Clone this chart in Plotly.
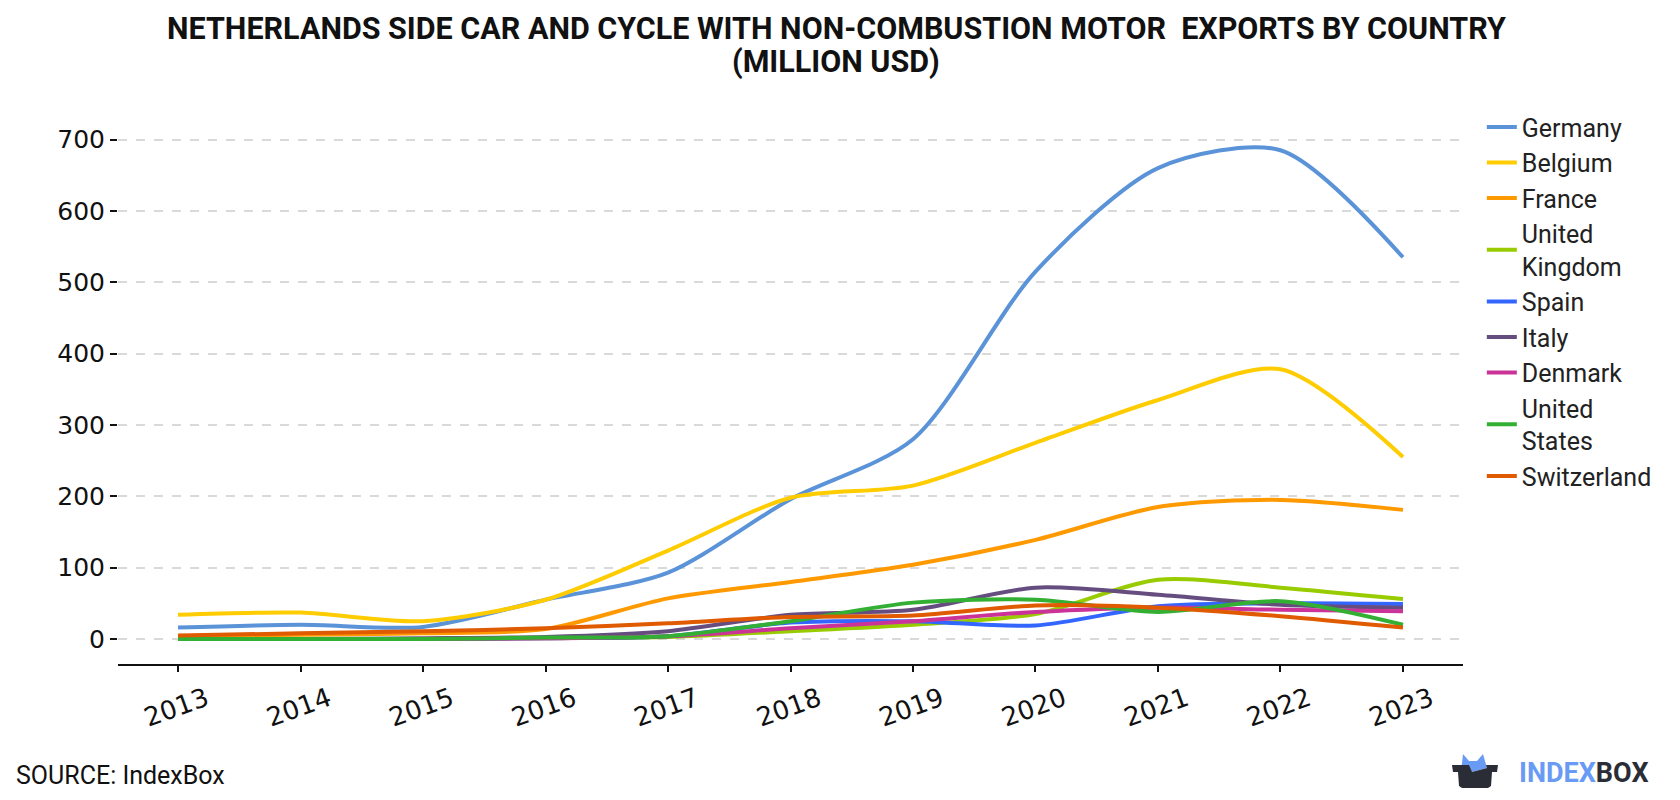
import plotly.graph_objects as go

years = [2013, 2014, 2015, 2016, 2017, 2018, 2019, 2020, 2021, 2022, 2023]

germany = [16, 20, 17, 55, 93, 196, 280, 515, 660, 685, 535]
belgium = [34, 37, 25, 55, 124, 198, 215, 275, 335, 378, 255]
france = [4, 6, 8, 14, 57, 80, 104, 139, 185, 195, 181]
united_kingdom = [0, 0, 0, 1, 3, 11, 20, 35, 83, 72, 56]
spain = [0, 0, 0, 1, 4, 23, 25, 19, 46, 50, 49]
italy = [0, 0, 1, 3, 11, 34, 41, 72, 62, 48, 44]
denmark = [0, 0, 0, 1, 4, 15, 25, 38, 44, 41, 39]
united_states = [0, 0, 0, 2, 4, 25, 51, 55, 38, 53, 20]
switzerland = [5, 8, 11, 15, 22, 31, 33, 47, 44, 32, 16]

series = [
    ("Germany", germany, "#5a93d8"),
    ("Belgium", belgium, "#ffcc00"),
    ("France", france, "#ff9900"),
    ("United<br>Kingdom", united_kingdom, "#99cc00"),
    ("Spain", spain, "#3366ff"),
    ("Italy", italy, "#664d80"),
    ("Denmark", denmark, "#cc3399"),
    ("United<br>States", united_states, "#33b033"),
    ("Switzerland", switzerland, "#e05a00"),
]

# plot area in pixels
L, R, T, B = 118, 1463, 111, 664
W_, H_ = 1680, 800


def px(x):
    return (x - L) / (R - L)


def py(y):
    return (B - y) / (B - T)


fig = go.Figure()
for name, vals, color in series:
    fig.add_trace(go.Scatter(
        x=years, y=vals, name=name, mode="lines",
        line=dict(color=color, width=4, shape="spline", smoothing=0.8),
    ))

fig.update_layout(
    width=W_, height=H_,
    paper_bgcolor="white", plot_bgcolor="white",
    margin=dict(l=L, r=W_ - R, t=T, b=H_ - B),
    font=dict(family="Roboto, sans-serif", color="#111"),
    legend=dict(
        x=1.014, xanchor="left", y=1.012, yanchor="top",
        font=dict(size=25, color="#222", family="Roboto, sans-serif"),
        tracegroupgap=0,
    ),
    showlegend=True,
)

fig.update_xaxes(
    range=[2012.51, 2023.49],
    tickmode="array", tickvals=years, ticktext=[str(y) for y in years],
    tickangle=-20, tickfont=dict(size=26, color="#111", family="DejaVu Sans, sans-serif"),
    ticklabelshift=28, ticklabelstandoff=2,
    showline=True, linecolor="#111", linewidth=2,
    ticks="outside", ticklen=6, tickwidth=2, tickcolor="#111",
    showgrid=False, zeroline=False,
)
fig.update_yaxes(
    range=[-35, 740],
    tickvals=[0, 100, 200, 300, 400, 500, 600, 700],
    tickfont=dict(size=25, color="#111", family="DejaVu Sans, sans-serif"),
    showline=False,
    ticks="outside", ticklen=7, tickwidth=2, tickcolor="#111",
    showgrid=True, gridcolor="#d9d9d9", griddash="dash", gridwidth=2,
    zeroline=False,
)

# title (two lines placed separately)
title_lines = ["NETHERLANDS SIDE CAR AND CYCLE WITH NON-COMBUSTION MOTOR  EXPORTS BY COUNTRY",
               "(MILLION USD)"]
for line, yc in zip(title_lines, [29, 62]):
    fig.add_annotation(
        text="<b>" + line.replace("  ", "&nbsp; ") + "</b>", xref="paper", yref="paper",
        x=px(836), y=py(yc), xanchor="center", yanchor="middle",
        showarrow=False, font=dict(size=30.5, family="Roboto, sans-serif", color="#111"),
    )

fig.add_annotation(
    text="SOURCE: IndexBox", xref="paper", yref="paper",
    x=px(14), y=py(775), xanchor="left", yanchor="middle",
    showarrow=False, font=dict(size=25, color="#111", family="Roboto, sans-serif"),
)
fig.add_annotation(
    text="<b><span style='color:#6a9bf4'>INDEX</span><span style='color:#2b2d36'>BOX</span></b>",
    xref="paper", yref="paper",
    x=px(1517), y=py(773), xanchor="left", yanchor="middle",
    showarrow=False, font=dict(size=27, family="Roboto, sans-serif"),
)


def path_from(points):
    s = "M " + " L ".join(f"{px(x):.5f} {py(y):.5f}" for x, y in points) + " Z"
    return s


# logo icon: blue cat-ear shape and dark tray
fig.add_shape(type="path", xref="paper", yref="paper",
              path=path_from([(1461, 772), (1463, 754), (1469, 761), (1477, 761),
                              (1483, 754), (1487, 768), (1472, 772)]),
              fillcolor="#6a9bf4", line=dict(width=0))
fig.add_shape(type="path", xref="paper", yref="paper",
              path=path_from([(1452, 765), (1469, 765), (1472, 772), (1487, 768), (1486, 765),
                              (1498, 765), (1497, 772), (1492, 772), (1491, 786),
                              (1488, 788), (1462, 788), (1459, 786), (1458, 772), (1453, 772)]),
              fillcolor="#2b2d36", line=dict(width=0))

fig.write_html("out.html")
